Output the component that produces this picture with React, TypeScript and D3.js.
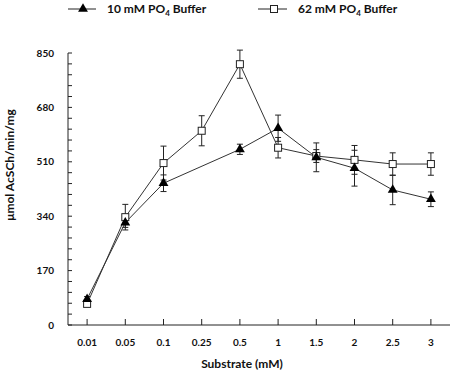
import React from "react";
import * as d3 from "d3";

const categories = ["0.01", "0.05", "0.1", "0.25", "0.5", "1", "1.5", "2", "2.5", "3"];
const buffer10: (number | null)[] = [81, 320, 443, null, 549, 615, 524, 490, 422, 393];
const buffer10Err = [8, 15, 26, 0, 16, 41, 45, 56, 46, 23];
const buffer62: (number | null)[] = [66, 337, 506, 607, 815, 554, 528, 516, 503, 503];
const buffer62Err = [6, 40, 53, 47, 44, 32, 20, 45, 35, 35];
const yTicks = [0, 170, 340, 510, 680, 850];
const yMinorStep = 34;

const W = 474, H = 384;
const left = 68, right = 450, top = 53, bottom = 325;
const FONT = "Lato, 'Open Sans', sans-serif";

export default function App() {
  const x = d3.scalePoint<string>().domain(categories).range([left, right]).padding(0.5);
  const y = d3.scaleLinear().domain([0, 850]).range([bottom, top]);
  const pts = (vals: (number | null)[]) =>
    vals.map((v, i) => ({ c: categories[i], v, i })).filter((p) => p.v !== null) as { c: string; v: number; i: number }[];
  const line = d3.line<{ c: string; v: number }>().x((d) => x(d.c)!).y((d) => y(d.v));
  const minor = d3.range(0, 851, yMinorStep);
  const tri = d3.symbol().type(d3.symbolTriangle).size(42)();
  const cap = 3;

  const errBars = (vals: (number | null)[], errs: number[], key: string) =>
    pts(vals).map(({ c, v, i }) => {
      const cx = x(c)!;
      const y1 = y(v + errs[i]), y2 = y(v - errs[i]);
      return (
        <g key={key + i} stroke="#222" strokeWidth={1}>
          <line x1={cx} x2={cx} y1={y1} y2={y2} />
          <line x1={cx - cap} x2={cx + cap} y1={y1} y2={y1} />
          <line x1={cx - cap} x2={cx + cap} y1={y2} y2={y2} />
        </g>
      );
    });

  return (
    <svg width={W} height={H} style={{ position: "absolute", left: 0, top: 0, background: "#fff" }}>
      {/* legend */}
      <g fontFamily={FONT} fontWeight="bold" fontSize={12} fill="#111">
        <line x1={68} x2={96} y1={9} y2={9} stroke="#222" />
        <path d={tri} transform="translate(83,9)" fill="#000" />
        <text x={107} y={13}>
          10 mM PO<tspan fontSize={8} dy={3}>4</tspan>
          <tspan dy={-3}> Buffer</tspan>
        </text>
        <line x1={258} x2={287} y1={9} y2={9} stroke="#222" />
        <rect x={270.5} y={5.5} width={7} height={7} fill="#fff" stroke="#222" />
        <text x={298} y={13}>
          62 mM PO<tspan fontSize={8} dy={3}>4</tspan>
          <tspan dy={-3}> Buffer</tspan>
        </text>
      </g>

      {/* axes */}
      <line x1={left} x2={left} y1={top} y2={bottom} stroke="#222" />
      <line x1={left} x2={right} y1={bottom} y2={bottom} stroke="#222" />
      {minor.map((v) => (
        <line key={"m" + v} x1={left} x2={left + 4} y1={y(v)} y2={y(v)} stroke="#222" />
      ))}
      {categories.map((c) => (
        <line key={"t" + c} x1={x(c)!} x2={x(c)!} y1={bottom} y2={bottom - 6} stroke="#222" />
      ))}
      <g fontFamily={FONT} fontWeight="bold" fontSize={10} fill="#111">
        {yTicks.map((v) => (
          <text key={"yl" + v} x={54} y={y(v) + 3.5} textAnchor="end">{v}</text>
        ))}
        {categories.map((c) => (
          <text key={"xl" + c} x={x(c)!} y={346} textAnchor="middle">{c}</text>
        ))}
      </g>
      <text x={242} y={368} textAnchor="middle" fontFamily={FONT} fontWeight="bold" fontSize={12} fill="#111">
        Substrate (mM)
      </text>
      <text transform="translate(14,165) rotate(-90)" textAnchor="middle" fontFamily={FONT} fontWeight="bold" fontSize={12} fill="#111">
        μmol AcSCh/min/mg
      </text>

      {/* series */}
      {errBars(buffer62, buffer62Err, "e62")}
      {errBars(buffer10, buffer10Err, "e10")}
      <path d={line(pts(buffer62))!} fill="none" stroke="#333" strokeWidth={1} />
      <path d={line(pts(buffer10))!} fill="none" stroke="#333" strokeWidth={1} />
      {pts(buffer62).map(({ c, v, i }) => (
        <rect key={"s" + i} x={x(c)! - 3.5} y={y(v) - 3.5} width={7} height={7} fill="#fff" stroke="#222" />
      ))}
      {pts(buffer10).map(({ c, v, i }) => (
        <path key={"tr" + i} d={tri} transform={`translate(${x(c)},${y(v)})`} fill="#000" />
      ))}
    </svg>
  );
}
